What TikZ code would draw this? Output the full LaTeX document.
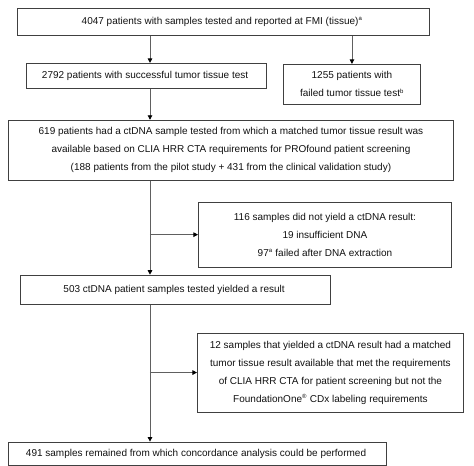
\documentclass[tikz,border=0pt]{standalone}
\definecolor{boxGray}{HTML}{404040}
\definecolor{lineGray}{HTML}{606060}
\definecolor{textBlack}{HTML}{111111}
\usepackage{fontspec}
\setmainfont{Liberation Sans}
\usepackage{tikz}
\usetikzlibrary{calc, positioning, arrows.meta}
\newcommand{\fnmark}[1]{\textsuperscript{\fontsize{6}{6}\selectfont #1}}

\begin{document}
\begin{tikzpicture}[
        block/.style={draw=boxGray, line width=0.9pt, inner sep=3pt, font=\fontsize{10}{18}\selectfont, text=textBlack, align=center},
        flow/.style={draw=lineGray, line width=0.9pt, -{Triangle[length=4.5pt, width=4.5pt, black]}},
        node distance=27pt
      ]
        % Tissue source block
        \node[block, minimum width=412pt, minimum height=27pt] (fmi) {
          4047 patients with samples tested and reported at FMI (tissue)\fnmark{a}
        };

        % Tissue outcome blocks
        \node[block, minimum width=240pt, minimum height=25pt, below=27pt of fmi.south west, anchor=north west, xshift=9pt] (success) {
          2792 patients with successful tumor tissue test
        };
        \node[block, minimum width=137pt, minimum height=40pt, below=28pt of fmi.south east, anchor=north east, xshift=-9pt] (failed) {
          1255 patients with\\
          failed tumor tissue test\fnmark{b}
        };

        % Matched ctDNA block
        \node[block, minimum width=445pt, minimum height=60pt, below=31pt of success.south west, anchor=north west, xshift=-18pt] (ctdna) {
          619 patients had a ctDNA sample tested from which a matched tumor tissue result was\\
          available based on CLIA HRR CTA requirements for PROfound patient screening\\
          (188 patients from the pilot study + 431 from the clinical validation study)
        };

        % Excluded samples
        \node[block, minimum width=253pt, minimum height=65pt, below=21pt of ctdna.south west, anchor=north west, xshift=190pt] (noresult) {
          116 samples did not yield a ctDNA result:\\
          19 insufficient DNA\\
          97\fnmark{a} failed after DNA extraction
        };
        \node[block, minimum width=310pt, minimum height=29pt, below=94pt of ctdna.south west, anchor=north west, xshift=12pt] (yield) {
          503 ctDNA patient samples tested yielded a result
        };
        \node[block, minimum width=266pt, minimum height=79pt, below=28pt of yield.south west, anchor=north west, xshift=177pt] (labeling) {
          12 samples that yielded a ctDNA result had a matched\\
          tumor tissue result available that met the requirements\\
          of CLIA HRR CTA for patient screening but not the\\
          FoundationOne\fnmark{®} CDx labeling requirements
        };

        % Final set
        \node[block, minimum width=378pt, minimum height=23pt, below=137pt of yield.south west, anchor=north west, xshift=-12pt] (final) {
          491 samples remained from which concordance analysis could be performed
        };

        % Main spine
        \coordinate (spine) at ($(fmi.south west)+(133pt,0)$);

        \draw[flow] (spine |- fmi.south) -- (spine |- success.north);
        \draw[flow] (fmi.south -| failed.north) -- (failed.north);
        \draw[flow] (spine |- success.south) -- (spine |- ctdna.north);
        \draw[flow] (spine |- ctdna.south) -- (spine |- yield.north);
        \draw[flow] (spine |- noresult.west) -- (noresult.west);
        \draw[flow] (spine |- yield.south) -- (spine |- final.north);
        \draw[flow] (spine |- labeling.west) -- (labeling.west);

        % Page frame
        \path ($(fmi.north west)+(-17pt,8pt)$) rectangle ++(474pt,-463pt);
      \end{tikzpicture}
\end{document}
